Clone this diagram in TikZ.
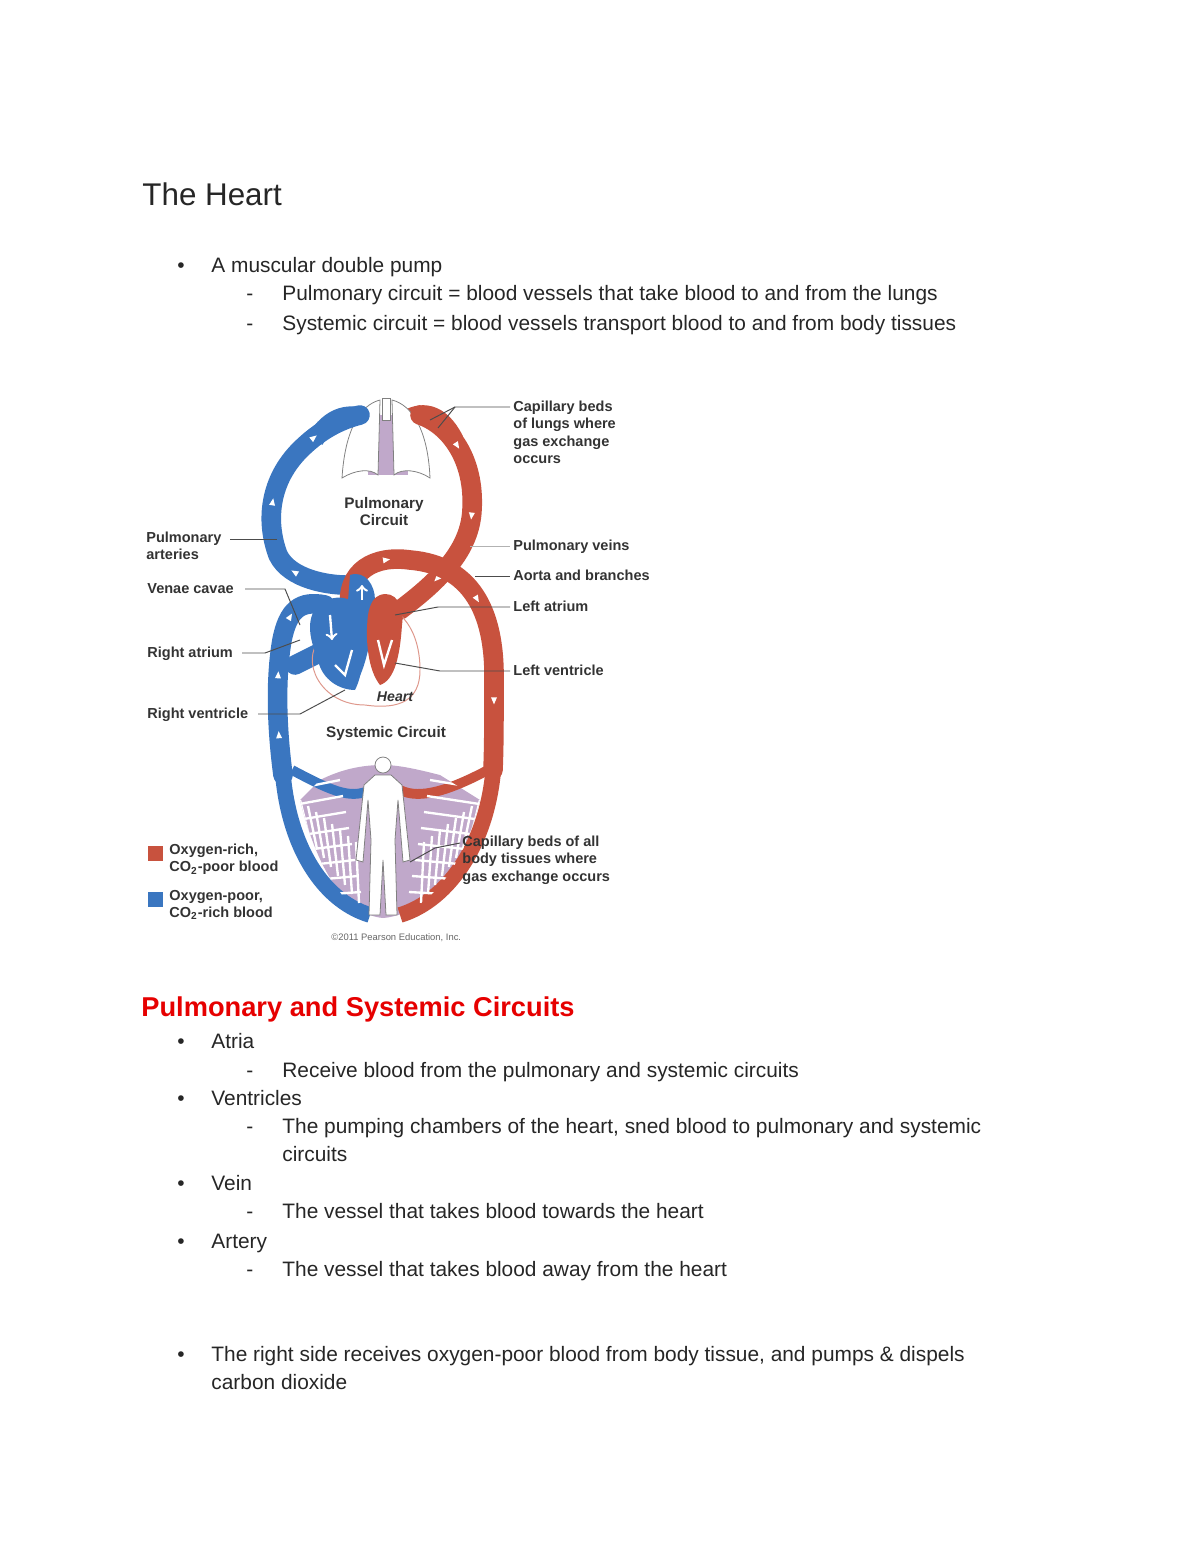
\documentclass[tikz,border=0pt]{standalone}
\usepackage{fontspec}
\setmainfont{Liberation Sans}
\usetikzlibrary{decorations.markings}
\definecolor{rd}{RGB}{200,82,62}
\definecolor{bl}{RGB}{58,118,192}
\definecolor{pu}{RGB}{165,130,180}
\definecolor{hr}{RGB}{230,0,0}
\begin{document}
\begin{tikzpicture}[x=0.51pt,y=-0.51pt,
  body/.style={anchor=base west,font=\fontsize{10.65}{12}\selectfont,inner sep=0pt,text=black!85},
  lab/.style={anchor=base west,font=\fontsize{7.4}{8.7}\selectfont\bfseries,inner sep=0pt,align=left,text=black!80},
  labm/.style={lab,anchor=north west},
  lead/.style={draw=black!70,line width=0.5pt},
  ves/.style={line width=10pt,line cap=round},
  flow/.style={postaction={decorate},decoration={markings,mark=between positions 0.2 and 0.9 step 0.3 with {\fill[white] (4,0)--(-3,3)--(-3,-3)--cycle;}}},
  mesh/.style={draw=white,line width=1.2pt}]
\useasboundingbox (0,0) rectangle (1200,1553);
% ---------- text ----------
\node[body,font=\fontsize{16}{19}\selectfont] (t1) at (142,206) {The Heart};
\node[body] (b1) at (177,272) {\textbullet};
\node[body] (l1) at (211,272) {A muscular double pump};
\node[body] (d1) at (246,300) {-};
\node[body] (l2) at (282,300) {Pulmonary circuit = blood vessels that take blood to and from the lungs};
\node[body] (d2) at (246,330) {-};
\node[body] (l3) at (282,330) {Systemic circuit = blood vessels transport blood to and from body tissues};
\node[body,font=\fontsize{13.9}{15}\selectfont\bfseries,text=hr] (t2) at (141,1016) {Pulmonary and Systemic Circuits};
\node[body] (b2) at (177,1048) {\textbullet};
\node[body] (m1) at (211,1048) {Atria};
\node[body] (d3) at (246,1077) {-};
\node[body] (m2) at (282,1077) {Receive blood from the pulmonary and systemic circuits};
\node[body] (b3) at (177,1105) {\textbullet};
\node[body] (m3) at (211,1105) {Ventricles};
\node[body] (d4) at (246,1133) {-};
\node[body] (m4) at (282,1133) {The pumping chambers of the heart, sned blood to pulmonary and systemic};
\node[body] (m5) at (282,1161) {circuits};
\node[body] (b4) at (177,1190) {\textbullet};
\node[body] (m6) at (211,1190) {Vein};
\node[body] (d5) at (246,1218) {-};
\node[body] (m7) at (282,1218) {The vessel that takes blood towards the heart};
\node[body] (b5) at (177,1248) {\textbullet};
\node[body] (m8) at (211,1248) {Artery};
\node[body] (d6) at (246,1276) {-};
\node[body] (m9) at (282,1276) {The vessel that takes blood away from the heart};
\node[body] (b6) at (177,1361) {\textbullet};
\node[body] (m10) at (211,1361) {The right side receives oxygen-poor blood from body tissue, and pumps \& dispels};
\node[body] (m11) at (211,1389) {carbon dioxide};
% ---------- lower capillary bowl ----------
\fill[pu!70] (300,800) .. controls (320,880) and (350,915) .. (383,918) .. controls (420,915) and (460,880) .. (480,800) -- (440,775) .. controls (420,770) and (400,765) .. (383,765) .. controls (360,765) and (340,770) .. (320,780) -- cycle;
\draw[bl,line width=8pt] (282,760) .. controls (285,840) and (320,900) .. (370,915);
\draw[rd,line width=8pt] (494,760) .. controls (490,840) and (450,900) .. (400,915);
\draw[bl,line width=5pt] (292,770) .. controls (330,790) and (350,800) .. (370,790);
\draw[rd,line width=5pt] (488,770) .. controls (450,790) and (420,800) .. (400,790);
\begin{scope}
\clip (300,800) .. controls (320,880) and (350,915) .. (383,918) .. controls (420,915) and (460,880) .. (480,800) -- (440,775) .. controls (420,770) and (400,765) .. (383,765) .. controls (360,765) and (340,770) .. (320,780) -- cycle;
\foreach \i in {0,...,7}{
  \draw[mesh] (290+\i*4,790+\i*15) -- (340+\i*3,780+\i*16);
  \draw[mesh] (490-\i*4,790+\i*15) -- (430-\i*3,780+\i*16);
  \draw[mesh] (300+\i*8,800+\i*6) -- (310+\i*7,840+\i*9);
  \draw[mesh] (480-\i*8,800+\i*6) -- (470-\i*7,840+\i*9);
}
\end{scope}
% body silhouette
\fill[white] (383,765) circle (8);
\fill[white] (375,775) -- (391,775) -- (402,785) -- (410,860) -- (403,862) -- (398,800) -- (395,840) -- (397,915) -- (386,915) -- (383,860) -- (380,915) -- (369,915) -- (371,840) -- (368,800) -- (363,862) -- (356,860) -- (364,785) -- cycle;
\draw[black!50,line width=0.4pt] (383,765) circle (8);
\draw[black!50,line width=0.4pt] (375,775) -- (391,775) -- (402,785) -- (410,860) -- (403,862) -- (398,800) -- (395,840) -- (397,915) -- (386,915) -- (383,860) -- (380,915) -- (369,915) -- (371,840) -- (368,800) -- (363,862) -- (356,860) -- (364,785) -- cycle;
% ---------- lungs ----------
\fill[pu!70] (368,415) rectangle (408,475);
\draw[rd,line width=9pt] (405,420) .. controls (420,410) and (440,410) .. (455,440);
\draw[bl,line width=9pt] (372,420) .. controls (350,410) and (330,415) .. (315,440);
\fill[white,draw=black!50,line width=0.4pt] (380,400) .. controls (360,405) and (345,430) .. (342,478) .. controls (355,470) and (370,468) .. (378,475) -- cycle;
\fill[white,draw=black!50,line width=0.4pt] (392,400) .. controls (412,405) and (428,430) .. (430,478) .. controls (418,470) and (402,468) .. (394,475) -- cycle;
\fill[white,draw=black!50,line width=0.4pt] (382,398) rectangle (390,420);
% ---------- vessels ----------
\draw[bl,ves,flow] (345,585) .. controls (330,585) and (290,580) .. (278,555) .. controls (265,520) and (270,480) .. (300,450) .. controls (320,430) and (340,420) .. (360,415);
\draw[rd,ves,flow] (420,415) .. controls (450,425) and (475,460) .. (472,510) .. controls (470,550) and (440,580) .. (400,610);
\draw[bl,ves,flow] (283,775) .. controls (277,730) and (275,680) .. (282,640) .. controls (288,610) and (300,600) .. (325,605);
\draw[bl,ves] (295,665) -- (325,650);
\draw[rd,ves,flow] (350,610) .. controls (345,570) and (375,555) .. (410,560) .. controls (470,565) and (495,610) .. (494,680) .. controls (494,720) and (494,745) .. (493,770);
% ---------- heart ----------
\draw[rd!60,line width=0.5pt] (320,640) .. controls (300,660) and (320,705) .. (365,705) .. controls (400,710) and (420,700) .. (420,670) .. controls (420,630) and (400,605) .. (375,605) .. controls (345,605) and (330,620) .. (320,640) -- cycle;
\fill[bl] (318,605) .. controls (340,590) and (358,600) .. (360,615) .. controls (365,640) and (365,670) .. (355,690) .. controls (340,690) and (322,680) .. (318,660) .. controls (310,640) and (305,620) .. (318,605) -- cycle;
\fill[bl] (350,575) .. controls (365,570) and (375,585) .. (375,600) .. controls (372,640) and (365,670) .. (355,685) -- (345,640) -- cycle;
\fill[rd] (380,595) .. controls (395,590) and (405,605) .. (402,625) .. controls (400,655) and (395,680) .. (380,685) .. controls (368,670) and (365,640) .. (368,615) .. controls (370,602) and (375,597) .. (380,595) -- cycle;
\draw[white,line width=1.2pt,->] (330,615) -- (332,640);
\draw[white,line width=1.2pt] (335,665) -- (345,675) -- (352,650);
\draw[white,line width=1.2pt] (378,640) -- (384,665) -- (392,640);
\draw[white,line width=1.2pt,->] (362,600) -- (362,585);
% ---------- inside labels ----------
\node[lab,font=\fontsize{7.8}{8.7}\selectfont\bfseries,align=center,anchor=center] (pc) at (384,512) {Pulmonary\\Circuit};
\node[lab,font=\fontsize{7.8}{8.7}\selectfont\bfseries,anchor=center] (sc) at (386,734) {Systemic Circuit};
\node[lab,font=\fontsize{7.2}{8}\selectfont\bfseries\itshape,anchor=center] (hl) at (395,697) {Heart};
% ---------- side labels ----------
\node[labm] (cl) at (513,401) {Capillary beds\\of lungs where\\gas exchange\\occurs};
\node[lab] (pv) at (513,550) {Pulmonary veins};
\node[lab] (ab) at (513,580) {Aorta and branches};
\node[lab] (la) at (513,611) {Left atrium};
\node[lab] (lv) at (513,675) {Left ventricle};
\node[labm] (cb) at (462,836) {Capillary beds of all\\body tissues where\\gas exchange occurs};
\node[labm] (pa) at (146,532) {Pulmonary\\arteries};
\node[lab] (vc) at (147,593) {Venae cavae};
\node[lab] (ra) at (147,657) {Right atrium};
\node[lab] (rv) at (147,718) {Right ventricle};
\coordinate (ca) at (455,407);
\draw[lead] (510,407) -- (ca) -- (438,428);
\draw[lead] (ca) -- (430,420);
\draw[lead,black!30] (510,546) -- (470,546);
\draw[lead] (510,576) -- (475,576);
\draw[lead] (510,607) -- (438,607) -- (395,615);
\draw[lead] (510,671) -- (440,671) -- (395,663);
\coordinate (cbj) at (435,848);
\draw[lead] (460,843) -- (cbj) -- (410,862);
\draw[lead] (230,539) -- (277,539);
\draw[lead] (245,589) -- (285,589) -- (300,625);
\draw[lead] (242,653) -- (265,653) -- (300,640);
\draw[lead] (258,714) -- (300,714) -- (345,690);
% ---------- legend ----------
\fill[rd] (148,846) rectangle (163,861);
\fill[bl] (148,892) rectangle (163,907);
\node[labm] (k1) at (169,844) {Oxygen-rich,\\CO\textsubscript{2}-poor blood};
\node[labm] (k2) at (169,890) {Oxygen-poor,\\CO\textsubscript{2}-rich blood};
\node[anchor=base west,inner sep=0pt,font=\fontsize{4.8}{5}\selectfont,text=black!60] (cp) at (331,940) {\textcopyright 2011 Pearson Education, Inc.};
\end{tikzpicture}
\end{document}
